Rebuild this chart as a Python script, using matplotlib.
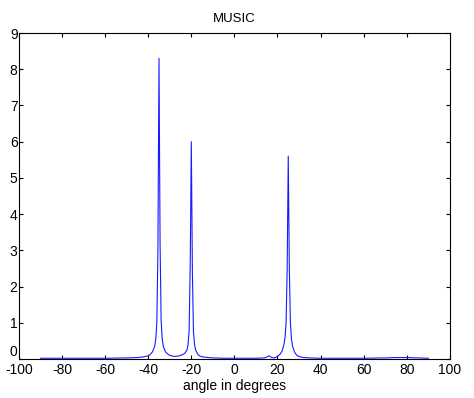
import matplotlib
matplotlib.use("Agg")
import matplotlib.pyplot as plt

# MUSIC pseudo-spectrum
angles = [-90, -80, -70, -60, -50, -45, -42, -40, -39, -38, -37, -36.5, -36, -35.5,
          -35, -34.5, -34, -33.5, -33, -32, -31, -30, -28, -26, -24, -23, -22, -21.5,
          -21, -20.5, -20, -19.5, -19, -18.5, -18, -17, -16, -15, -12, -10, -5, 0, 5,
          10, 14, 15, 16, 17, 18, 19, 20, 21, 22, 23, 23.5, 24, 24.5, 25, 25.5, 26,
          26.5, 27, 28, 29, 30, 32, 35, 40, 50, 60, 70, 75, 80, 85, 90]
music = [0.02, 0.02, 0.02, 0.02, 0.03, 0.04, 0.06, 0.09, 0.13, 0.2, 0.35, 0.55, 1.0, 3.0,
         8.3, 3.2, 1.05, 0.55, 0.35, 0.2, 0.14, 0.1, 0.07, 0.08, 0.12, 0.16, 0.25, 0.4,
         0.8, 2.6, 6.0, 2.4, 0.75, 0.4, 0.25, 0.13, 0.08, 0.06, 0.04, 0.03, 0.02, 0.02, 0.02,
         0.02, 0.03, 0.05, 0.09, 0.05, 0.03, 0.04, 0.07, 0.12, 0.2, 0.4, 0.6, 1.0, 2.5, 5.6, 2.5, 1.0,
         0.55, 0.35, 0.18, 0.1, 0.07, 0.04, 0.03, 0.02, 0.02, 0.02, 0.03, 0.04, 0.04, 0.03, 0.02]

xticks = list(range(-100, 101, 20))
yticks = list(range(0, 10))

plt.rcParams["font.family"] = ["Liberation Sans", "DejaVu Sans"]
plt.rcParams["axes.unicode_minus"] = False

fig = plt.figure(figsize=(4.74, 3.98), dpi=100)
ax = fig.add_axes([0.040, 0.098, 0.909, 0.819])

ax.plot(angles, music, color="#1a1aff", linewidth=0.8)

ax.set_xlim(-100, 100)
ax.set_ylim(0, 9)
ax.set_xticks(xticks)
ax.set_yticks(yticks)
ax.tick_params(direction="in", top=True, right=True, length=3, width=0.8,
               labelsize=10)
ax.tick_params(axis="x", pad=3)
ax.tick_params(axis="y", pad=1)
# matlab nudges the lowest y label up so it clears the "-100"
ax.get_yticklabels()[0].set_verticalalignment("bottom")
for s in ax.spines.values():
    s.set_linewidth(0.8)

ax.set_title("MUSIC", fontsize=9.5, pad=8)
ax.set_xlabel("angle in degrees", fontsize=10, labelpad=1)

fig.savefig("out.png", dpi=100)
